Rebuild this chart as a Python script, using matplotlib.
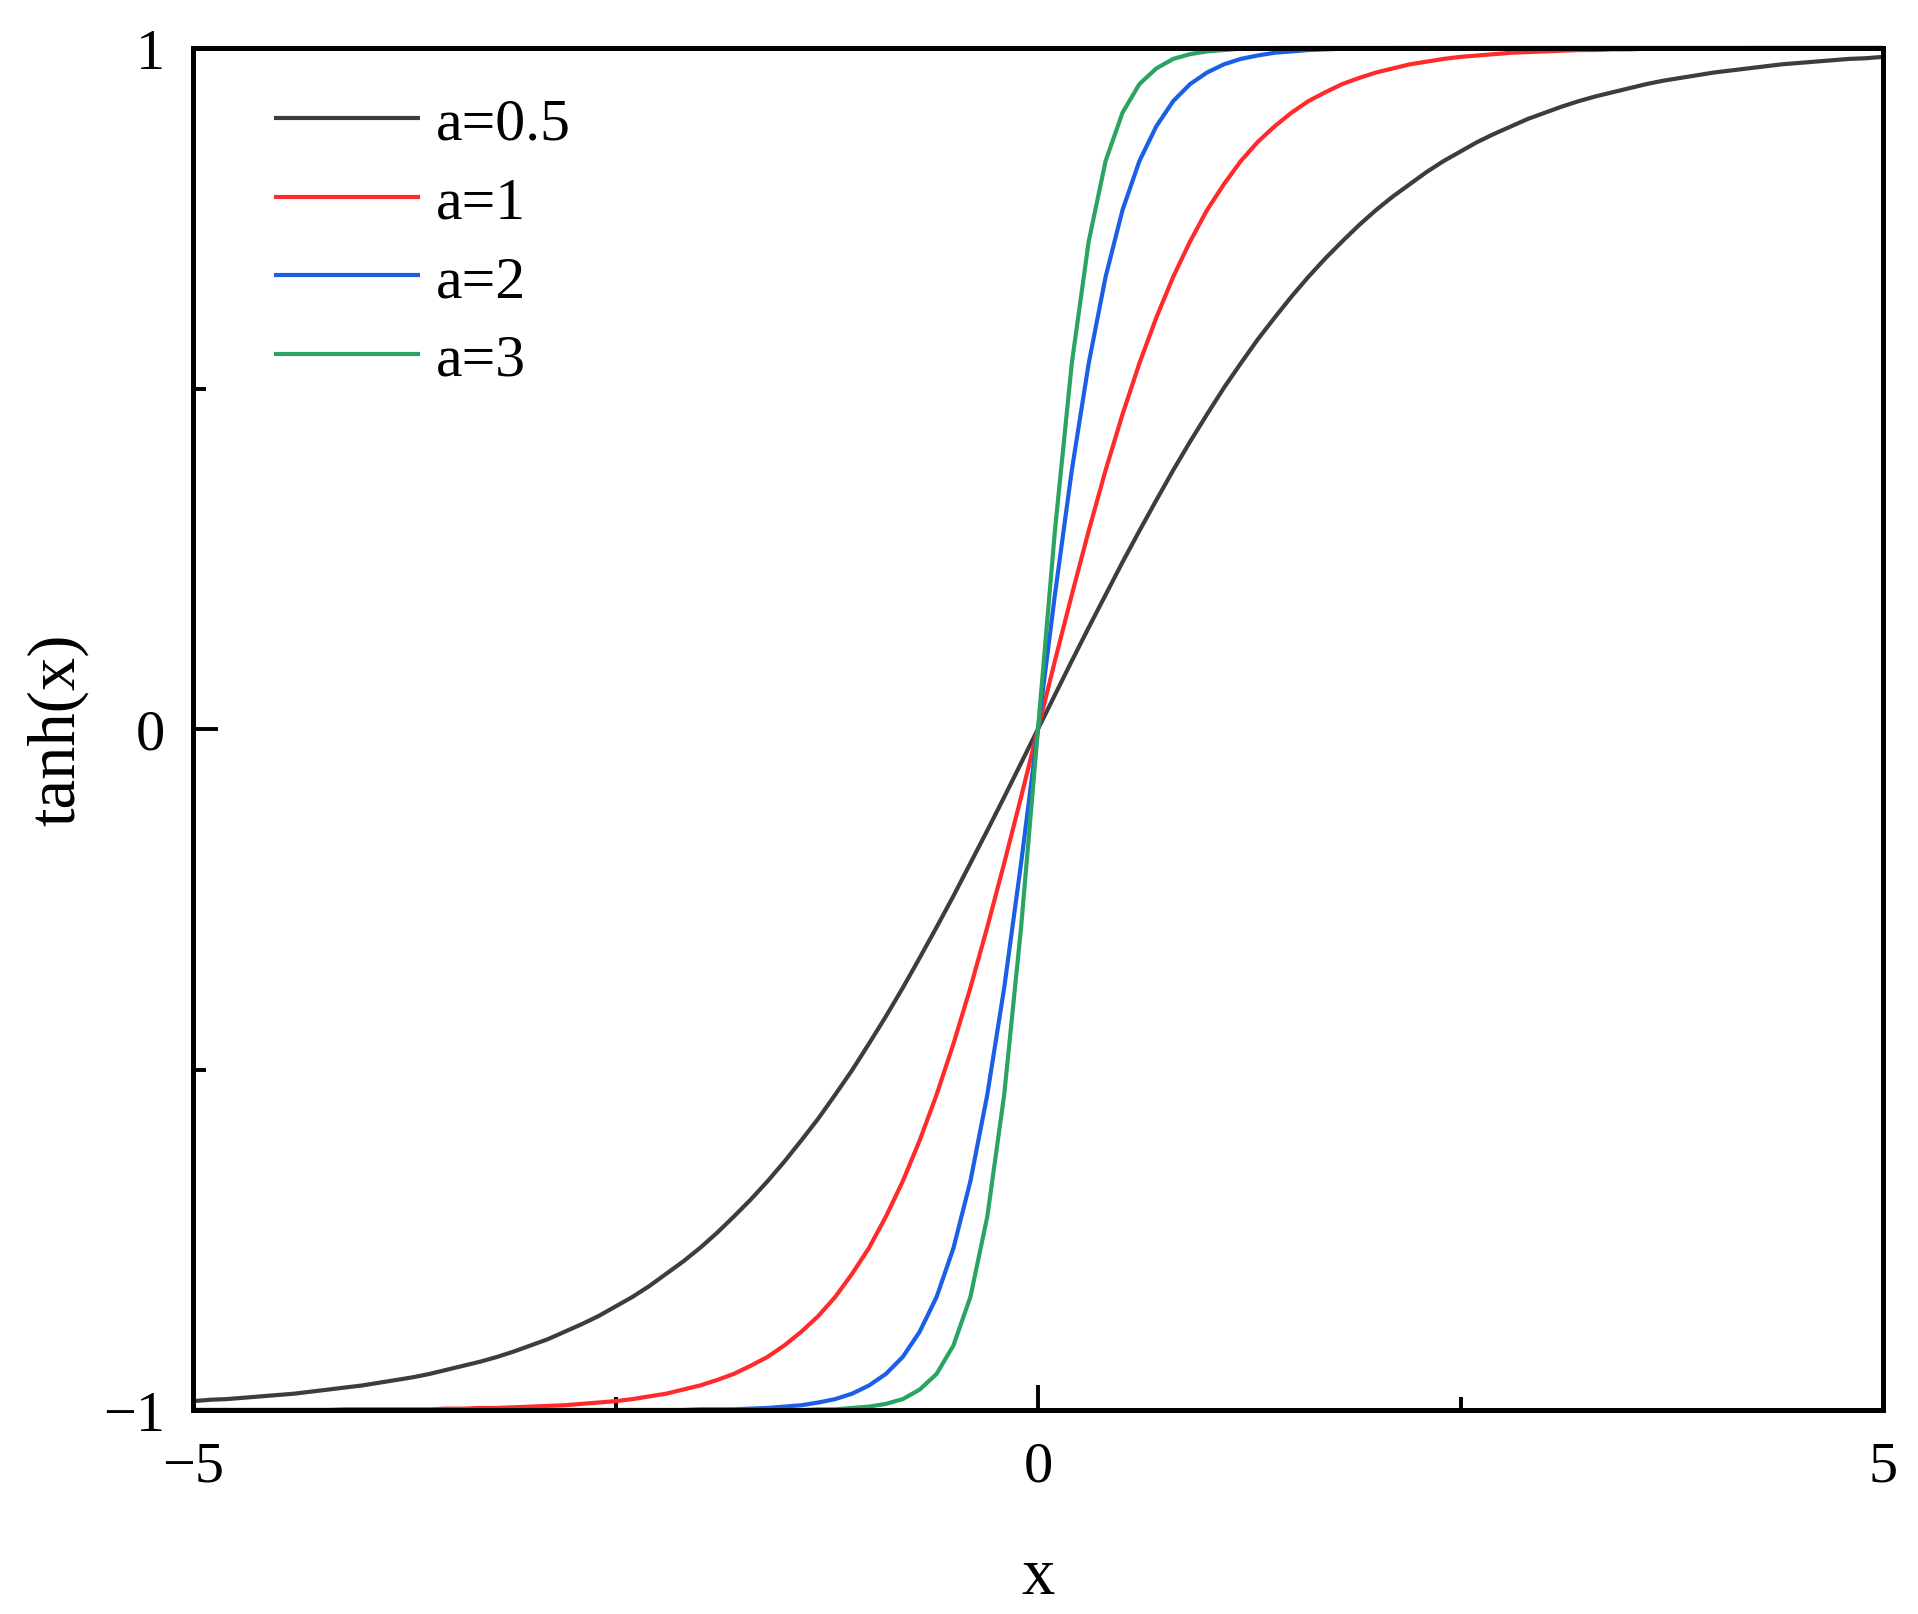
import matplotlib
matplotlib.use("Agg")
import matplotlib.pyplot as plt
from matplotlib.ticker import FixedLocator

plt.rcParams['font.family'] = ['Liberation Serif', 'DejaVu Serif']
plt.rcParams['axes.unicode_minus'] = True

# sample positions (x)
x = [-5.0, -4.9, -4.8, -4.7, -4.6, -4.5, -4.4, -4.3, -4.2, -4.1,
     -4.0, -3.9, -3.8, -3.7, -3.6, -3.5, -3.4, -3.3, -3.2, -3.1,
     -3.0, -2.9, -2.8, -2.7, -2.6, -2.5, -2.4, -2.3, -2.2, -2.1,
     -2.0, -1.9, -1.8, -1.7, -1.6, -1.5, -1.4, -1.3, -1.2, -1.1,
     -1.0, -0.9, -0.8, -0.7, -0.6, -0.5, -0.4, -0.3, -0.2, -0.1,
     0.0,
     0.1, 0.2, 0.3, 0.4, 0.5, 0.6, 0.7, 0.8, 0.9, 1.0,
     1.1, 1.2, 1.3, 1.4, 1.5, 1.6, 1.7, 1.8, 1.9, 2.0,
     2.1, 2.2, 2.3, 2.4, 2.5, 2.6, 2.7, 2.8, 2.9, 3.0,
     3.1, 3.2, 3.3, 3.4, 3.5, 3.6, 3.7, 3.8, 3.9, 4.0,
     4.1, 4.2, 4.3, 4.4, 4.5, 4.6, 4.7, 4.8, 4.9, 5.0]

y_a05 = ([-0.987, -0.985, -0.984, -0.982, -0.980, -0.978, -0.976, -0.973, -0.970, -0.967,
          -0.964, -0.960, -0.956, -0.952, -0.947, -0.941, -0.935, -0.929, -0.922, -0.914,
          -0.905, -0.896, -0.885, -0.874, -0.862, -0.848, -0.834, -0.818, -0.800, -0.782,
          -0.762, -0.740, -0.716, -0.691, -0.664, -0.635, -0.604, -0.572, -0.537, -0.501,
          -0.462, -0.422, -0.380, -0.336, -0.291, -0.245, -0.197, -0.149, -0.100, -0.050]
         + [0.0]
         + [0.050, 0.100, 0.149, 0.197, 0.245, 0.291, 0.336, 0.380, 0.422, 0.462,
            0.501, 0.537, 0.572, 0.604, 0.635, 0.664, 0.691, 0.716, 0.740, 0.762,
            0.782, 0.800, 0.818, 0.834, 0.848, 0.862, 0.874, 0.885, 0.896, 0.905,
            0.914, 0.922, 0.929, 0.935, 0.941, 0.947, 0.952, 0.956, 0.960, 0.964,
            0.967, 0.970, 0.973, 0.976, 0.978, 0.980, 0.982, 0.984, 0.985, 0.987])

y_a1 = ([-1.000] * 9 + [-0.999] * 6
        + [-0.998, -0.998, -0.997, -0.997, -0.996, -0.995, -0.994, -0.993, -0.991, -0.989,
           -0.987, -0.984, -0.980, -0.976, -0.970, -0.964, -0.956, -0.947, -0.935, -0.922,
           -0.905, -0.885, -0.862, -0.834, -0.800, -0.762, -0.716, -0.664, -0.604, -0.537,
           -0.462, -0.380, -0.291, -0.197, -0.100]
        + [0.0]
        + [0.100, 0.197, 0.291, 0.380, 0.462, 0.537, 0.604, 0.664, 0.716, 0.762,
           0.800, 0.834, 0.862, 0.885, 0.905, 0.922, 0.935, 0.947, 0.956, 0.964,
           0.970, 0.976, 0.980, 0.984, 0.987, 0.989, 0.991, 0.993, 0.994, 0.995,
           0.996, 0.997, 0.997, 0.998, 0.998]
        + [0.999] * 6 + [1.000] * 9)

y_a2 = ([-1.000] * 30 + [-0.999] * 3
        + [-0.998, -0.997, -0.995, -0.993, -0.989, -0.984, -0.976, -0.964, -0.947, -0.922,
           -0.885, -0.834, -0.762, -0.664, -0.537, -0.380, -0.197]
        + [0.0]
        + [0.197, 0.380, 0.537, 0.664, 0.762, 0.834, 0.885, 0.922, 0.947, 0.964,
           0.976, 0.984, 0.989, 0.993, 0.995, 0.997, 0.998]
        + [0.999] * 3 + [1.000] * 30)

y_a3 = ([-1.000] * 37
        + [-0.999, -0.999, -0.997, -0.995, -0.991, -0.984, -0.970, -0.947, -0.905, -0.834,
           -0.716, -0.537, -0.291]
        + [0.0]
        + [0.291, 0.537, 0.716, 0.834, 0.905, 0.947, 0.970, 0.984, 0.991, 0.995,
           0.997, 0.999, 0.999]
        + [1.000] * 37)

labels = ['a=0.5', 'a=1', 'a=2', 'a=3']
colors = ['#3d3d3d', '#ff2b2b', '#1b5fe6', '#2aa461']
series = [y_a05, y_a1, y_a2, y_a3]

xticks = [-5, 0, 5]
xtick_labels = ['\u22125', '0', '5']
yticks = [-1, 0, 1]
ytick_labels = ['\u22121', '0', '1']

fig = plt.figure(figsize=(19.18, 16.15), dpi=100)
ax = fig.add_axes([193 / 1918, 1 - 1411 / 1615, (1883 - 193) / 1918, (1411 - 49) / 1615])

for ys, lab, col in zip(series, labels, colors):
    ax.plot(x, ys, color=col, lw=3.0, label=lab, zorder=3, clip_on=False,
            solid_joinstyle='round', solid_capstyle='butt')

ax.set_xlim(-5, 5)
ax.set_ylim(-1, 1)
ax.set_xticks(xticks)
ax.set_xticklabels(xtick_labels)
ax.set_yticks(yticks)
ax.set_yticklabels(ytick_labels)
ax.xaxis.set_minor_locator(FixedLocator([-2.5, 2.5]))
ax.yaxis.set_minor_locator(FixedLocator([-0.5, 0.5]))

ax.tick_params(which='major', direction='in', length=18, width=2.8, labelsize=42,
               pad=22, top=False, right=False)
ax.tick_params(which='minor', direction='in', length=9.5, width=2.8,
               top=False, right=False)
ax.tick_params(axis='y', which='major', pad=20)
for sp in ax.spines.values():
    sp.set_linewidth(3.6)
    sp.set_zorder(4)

ax.set_xlabel('x', fontsize=48)
ax.set_ylabel('tanh(x)', fontsize=48)
ax.xaxis.set_label_coords(0.5, -0.100)
ax.yaxis.set_label_coords(-0.062, 0.5)

ax.legend(loc='upper left', bbox_to_anchor=(0.048, 0.964), frameon=False,
          fontsize=43, handlelength=2.45, handletextpad=0.26, labelspacing=0.40,
          borderpad=0, borderaxespad=0)

fig.savefig('out.png', dpi=100)
